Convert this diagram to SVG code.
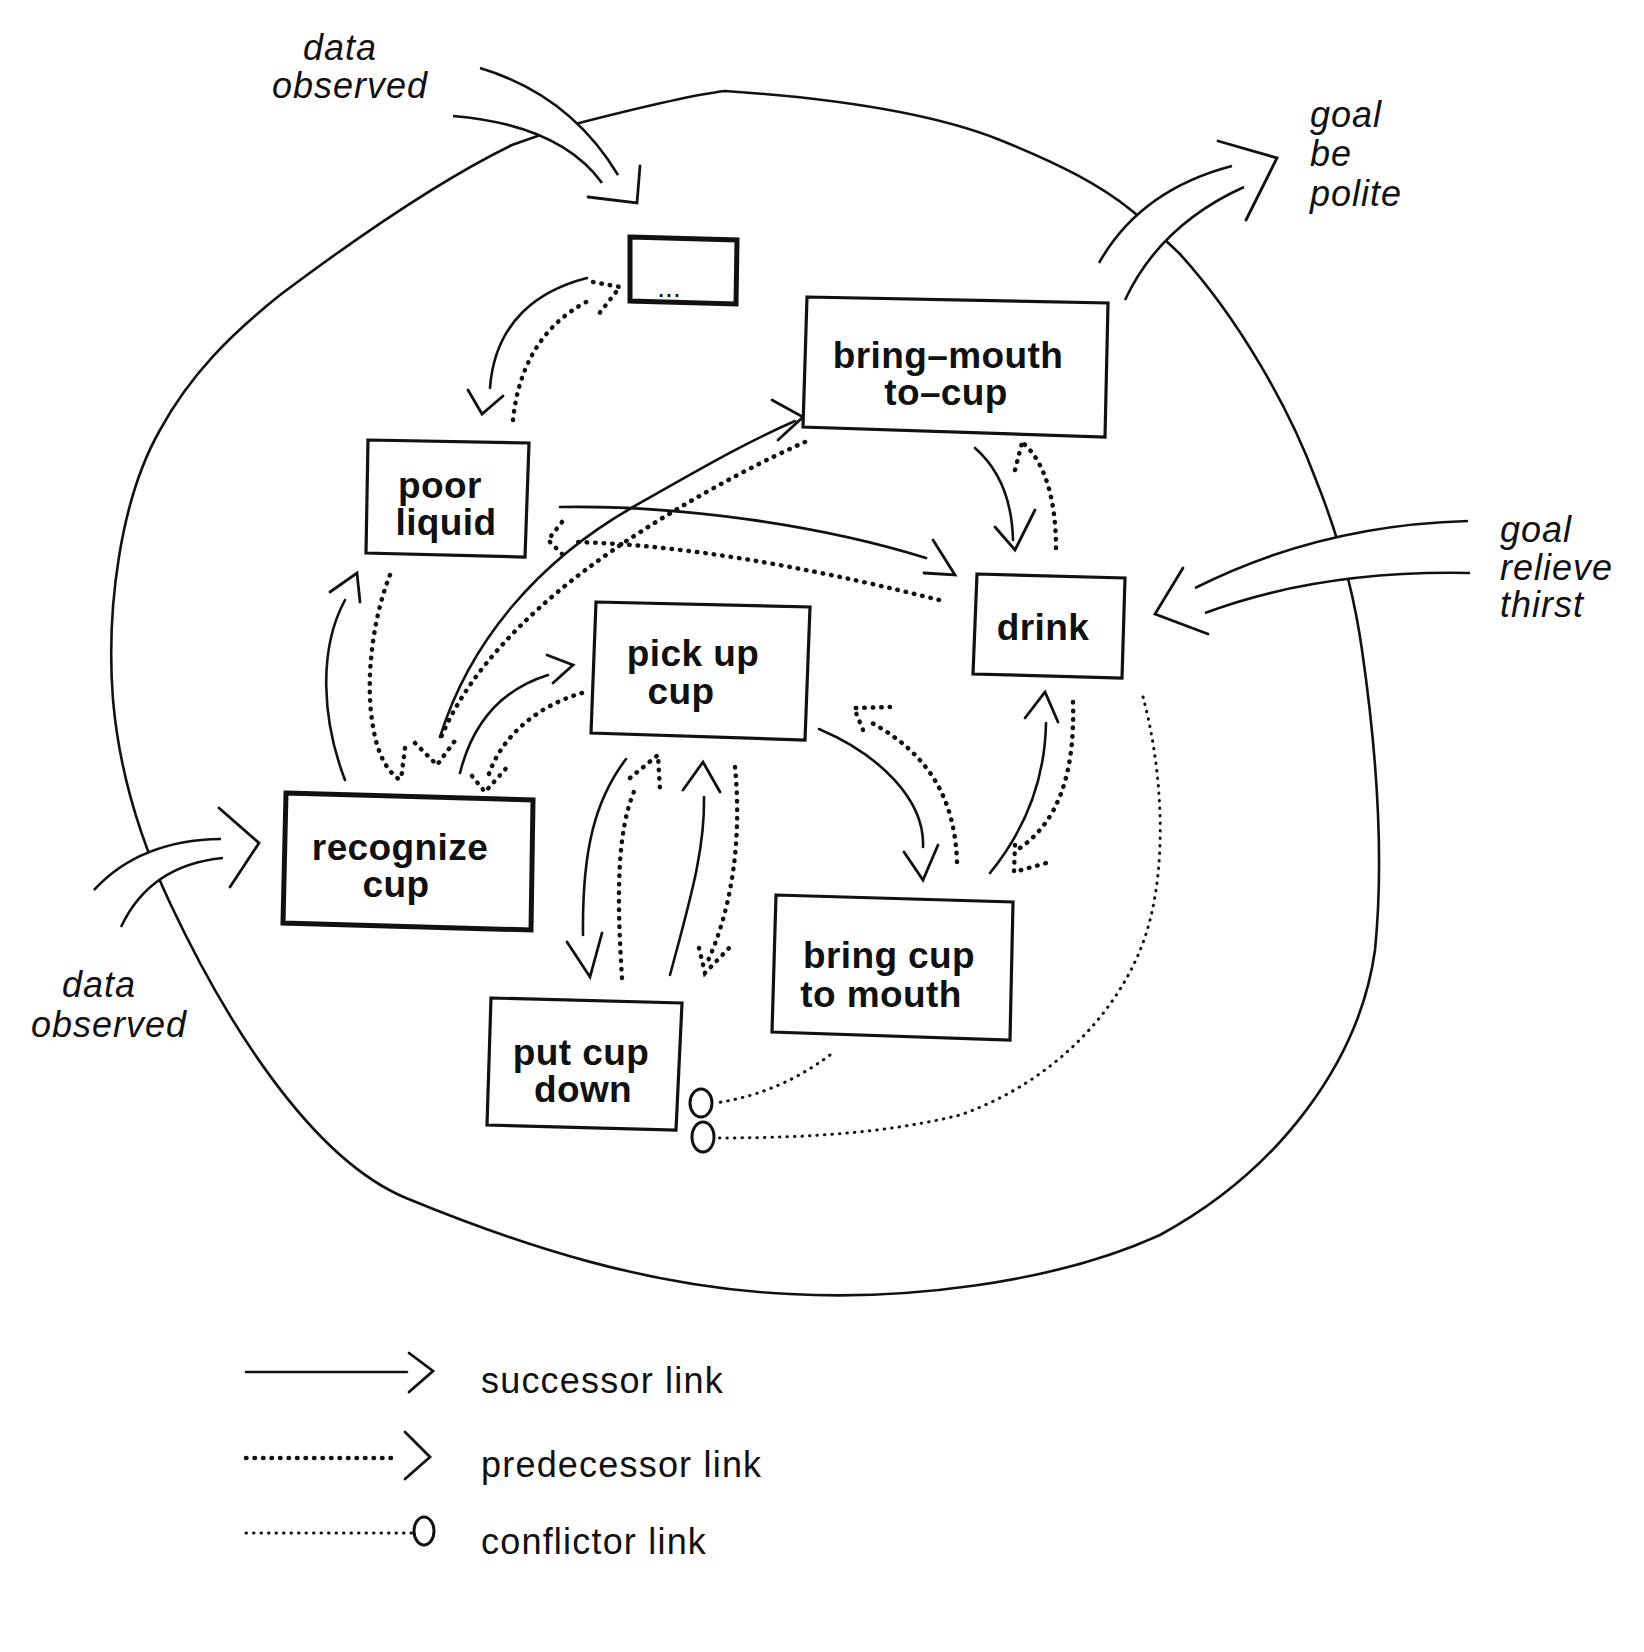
<svg xmlns="http://www.w3.org/2000/svg" width="1644" height="1652" viewBox="0 0 1644 1652">
<style>
.bg{fill:#fff}
.oval{fill:none;stroke:#111;stroke-width:2.6}
.band{fill:#fff;stroke:none}
.big{fill:none;stroke:#111;stroke-width:2.6}
.succ{fill:none;stroke:#111;stroke-width:2.6;stroke-linecap:round}
.arr{fill:none;stroke:#111;stroke-width:2.8;stroke-linejoin:miter;stroke-linecap:round}
.pred{fill:none;stroke:#111;stroke-width:4.5;stroke-dasharray:0.5 8;stroke-linecap:round}
.conf{fill:none;stroke:#111;stroke-width:3;stroke-dasharray:0.5 7;stroke-linecap:round}
.ring{fill:none;stroke:#111;stroke-width:3}
.box{fill:#fff;stroke:#111;stroke-width:3.2}
.boxthick{fill:#fff;stroke:#111;stroke-width:5}
.lbl{font-family:"Liberation Sans",Arial,sans-serif;font-weight:bold;font-size:37px;letter-spacing:0.4px;fill:#111;text-anchor:middle}
.ital{font-family:"Liberation Sans",Arial,sans-serif;font-style:italic;font-size:36px;letter-spacing:1px;fill:#111}
.leg{font-family:"Liberation Sans",Arial,sans-serif;font-size:36px;letter-spacing:1.2px;fill:#111}
</style>
<rect class="bg" x="0" y="0" width="1644" height="1652"/>

<g id="boundary">
<path class="oval" d="M725,91 C830,98 930,112 1000,140 C1060,164 1100,185 1131,210 C1150,225 1165,240 1179,253 C1240,320 1290,410 1316,480 C1340,540 1355,600 1362,650 C1375,740 1385,850 1375,950 C1360,1060 1280,1170 1160,1235 C1050,1285 900,1300 790,1294 C650,1288 520,1245 406,1198 C310,1158 225,1020 170,903 C145,850 120,780 113,700 C106,610 120,500 160,430 C190,375 230,335 280,295 C360,235 440,180 512,145 C540,135 560,128 583,122 C630,110 690,95 725,91 Z"/>
</g>

<g id="external-inputs">
<g id="data-observed-top">
<path class="band" d="M480,68 Q570,95 618,175 L602,183 Q560,125 453,116 Z"/>
<path class="big" d="M480,68 Q570,95 618,175"/>
<path class="big" d="M453,116 Q560,125 602,183"/>
<polyline class="arr" points="640,166 637,203 588,197"/>
<text class="ital" x="303" y="60">data</text>
<text class="ital" x="272" y="98">observed</text>
</g>
<g id="goal-be-polite">
<path class="band" d="M1099,263 Q1140,190 1232,166 L1244,187 Q1160,225 1125,300 Z"/>
<path class="big" d="M1099,263 Q1140,190 1232,166"/>
<path class="big" d="M1125,300 Q1160,225 1244,187"/>
<polyline class="arr" points="1218,141 1277,158 1246,220"/>
<text class="ital" x="1310" y="127">goal</text>
<text class="ital" x="1310" y="166">be</text>
<text class="ital" x="1310" y="206">polite</text>
</g>
<g id="goal-relieve-thirst">
<path class="band" d="M1468,521 Q1320,525 1195,588 L1205,613 Q1320,570 1470,573 Z"/>
<path class="big" d="M1468,521 Q1320,525 1195,588"/>
<path class="big" d="M1470,573 Q1320,570 1205,613"/>
<polyline class="arr" points="1183,568 1155,614 1208,634"/>
<text class="ital" x="1500" y="542">goal</text>
<text class="ital" x="1500" y="580">relieve</text>
<text class="ital" x="1500" y="617">thirst</text>
</g>
<g id="data-observed-left">
<path class="band" d="M94,890 Q140,840 221,839 L223,858 Q150,865 121,927 Z"/>
<path class="big" d="M94,890 Q140,840 221,839"/>
<path class="big" d="M121,927 Q150,865 223,858"/>
<polyline class="arr" points="219,808 259,843 230,887"/>
<text class="ital" x="62" y="997">data</text>
<text class="ital" x="31" y="1037">observed</text>
</g>
</g>

<g id="connectors">
<path class="succ" d="M587,278 C540,290 495,320 490,388"/>
<polyline class="arr" points="468,390 482,414 503,396"/>
<path class="pred" d="M513,420 C518,370 540,325 590,300"/>
<polyline class="pred" points="593,282 620,287 598,315"/>
<path class="succ" d="M560,507 C680,505 820,525 926,558"/>
<polyline class="arr" points="933,540 955,575 924,573"/>
<path class="pred" d="M939,600 C840,575 700,545 575,542"/>
<polyline class="pred" points="562,522 548,540 566,558"/>
<path class="succ" d="M345,780 C322,720 318,650 345,600"/>
<polyline class="arr" points="330,592 357,573 360,602"/>
<path class="pred" d="M390,575 C372,620 366,680 372,720 C376,750 385,770 400,780"/>
<polyline class="pred" points="405,748 401,780"/>
<path class="succ" d="M440,737 C470,640 540,560 633,507 C690,475 740,445 795,421"/>
<polyline class="arr" points="772,400 803,417 778,440"/>
<path class="pred" d="M805,442 C720,480 620,540 560,590 C500,640 460,690 440,740"/>
<polyline class="pred" points="415,743 437,765 457,738"/>
<path class="succ" d="M460,773 C472,725 500,690 548,675"/>
<polyline class="arr" points="547,655 573,665 553,683"/>
<path class="pred" d="M582,693 C540,705 500,735 487,780"/>
<polyline class="pred" points="472,776 485,792 510,764"/>
<path class="succ" d="M626,759 C595,800 582,850 583,935"/>
<polyline class="arr" points="567,942 590,977 602,933"/>
<path class="pred" d="M622,978 C617,900 616,830 636,787"/>
<polyline class="pred" points="630,778 658,755 660,790"/>
<path class="succ" d="M670,975 C690,900 705,850 704,797"/>
<polyline class="arr" points="683,790 703,762 720,792"/>
<path class="pred" d="M735,767 C742,840 732,910 706,965"/>
<polyline class="pred" points="699,948 705,973 732,945"/>
<path class="succ" d="M819,729 C880,755 925,800 923,847"/>
<polyline class="arr" points="904,852 923,880 938,845"/>
<path class="pred" d="M957,862 C955,800 930,755 872,723"/>
<polyline class="pred" points="863,730 854,708 890,707"/>
<path class="succ" d="M990,873 C1025,830 1045,780 1046,723"/>
<polyline class="arr" points="1025,718 1045,692 1058,722"/>
<path class="pred" d="M1073,702 C1075,770 1060,820 1020,848"/>
<polyline class="pred" points="1015,845 1014,872 1050,862"/>
<path class="succ" d="M975,448 C1000,470 1012,500 1013,540"/>
<polyline class="arr" points="995,527 1015,550 1035,510"/>
<path class="pred" d="M1056,548 C1056,500 1045,462 1023,443"/>
<polyline class="pred" points="1015,470 1022,443"/>
<path class="conf" d="M830,1055 C790,1085 750,1098 715,1103"/>
<ellipse class="ring" cx="701" cy="1103" rx="11" ry="14"/>
<path class="conf" d="M1143,697 C1160,760 1168,850 1150,920 C1130,1000 1060,1080 960,1115 C880,1135 790,1138 716,1138"/>
<ellipse class="ring" cx="703" cy="1137" rx="11" ry="15"/>
</g>

<g id="node-ellipsis">
<polygon class="boxthick" points="630,237 737,240 736,304 630,301"/>
<text x="669" y="297" font-family="Liberation Sans, Arial, sans-serif" font-size="28" text-anchor="middle" fill="#111">...</text>
</g>
<g id="node-bring-mouth-to-cup">
<polygon class="box" points="807,297 1108,303 1105,437 803,427"/>
<text class="lbl" x="948" y="368">bring–mouth</text>
<text class="lbl" x="946" y="405">to–cup</text>
</g>
<g id="node-poor-liquid">
<polygon class="box" points="368,440 529,443 525,557 366,553"/>
<text class="lbl" x="440" y="498">poor</text>
<text class="lbl" x="446" y="535">liquid</text>
</g>
<g id="node-pick-up-cup">
<polygon class="box" points="596,602 810,607 805,740 591,733"/>
<text class="lbl" x="693" y="666">pick up</text>
<text class="lbl" x="681" y="704">cup</text>
</g>
<g id="node-drink">
<polygon class="box" points="977,574 1125,578 1122,678 973,674"/>
<text class="lbl" x="1043" y="640">drink</text>
</g>
<g id="node-recognize-cup">
<polygon class="boxthick" points="286,793 533,800 531,930 283,923"/>
<text class="lbl" x="400" y="860">recognize</text>
<text class="lbl" x="396" y="897">cup</text>
</g>
<g id="node-put-cup-down">
<polygon class="box" points="491,998 682,1003 676,1130 487,1125"/>
<text class="lbl" x="581" y="1065">put cup</text>
<text class="lbl" x="583" y="1102">down</text>
</g>
<g id="node-bring-cup-to-mouth">
<polygon class="box" points="776,895 1013,902 1010,1040 772,1032"/>
<text class="lbl" x="889" y="968">bring cup</text>
<text class="lbl" x="881" y="1007">to mouth</text>
</g>

<g id="legend">
<line class="succ" x1="246" y1="1372" x2="407" y2="1372"/>
<polyline class="arr" points="409,1353 433,1371 409,1392"/>
<text class="leg" x="481" y="1393">successor link</text>
<line class="pred" x1="246" y1="1458" x2="399" y2="1458"/>
<polyline class="arr" points="405,1432 430,1457 405,1479"/>
<text class="leg" x="481" y="1477">predecessor link</text>
<line class="conf" x1="246" y1="1533" x2="412" y2="1533"/>
<ellipse class="ring" cx="424" cy="1531" rx="10" ry="14"/>
<text class="leg" x="481" y="1554">conflictor link</text>
</g>
</svg>
